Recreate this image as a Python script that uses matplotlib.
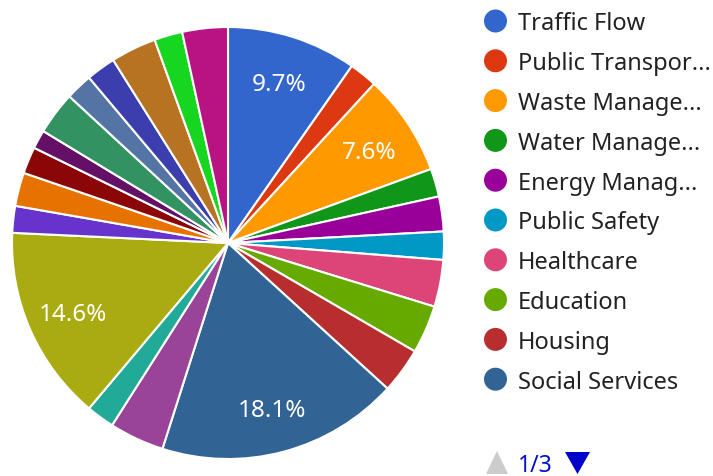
import matplotlib
matplotlib.use("Agg")
import matplotlib.pyplot as plt
from matplotlib.patches import Circle, Polygon

categories = ["Traffic Flow", "Public Transportation", "Waste Management", "Water Management",
              "Energy Management", "Public Safety", "Healthcare", "Education", "Housing",
              "Social Services", "Parks & Recreation", "Air Quality", "Urban Planning",
              "Noise Control", "Street Lighting", "Emergency Services", "Tourism",
              "Green Spaces", "Digital Services", "Citizen Engagement", "Infrastructure",
              "Recycling", "Culture"]
values = [9.7, 2.1, 7.6, 2.1, 2.6, 2.1, 3.5, 3.6, 3.4, 18.1, 4.1, 2.1, 14.6,
          2.0, 2.5, 2.0, 1.4, 3.2, 2.0, 2.2, 3.4, 2.1, 3.4]
legend_labels = ["Traffic Flow", "Public Transpor...", "Waste Manage...", "Water Manage...",
                 "Energy Manag...", "Public Safety", "Healthcare", "Education", "Housing",
                 "Social Services"]
page_text = "1/3"

colors = ["#3366cc", "#dc3912", "#ff9900", "#109618", "#990099", "#0099c6", "#dd4477",
          "#66aa00", "#b82e2e", "#316395", "#994499", "#22aa99", "#aaaa11", "#6633cc",
          "#e67300", "#8b0707", "#651067", "#329262", "#5574a6", "#3b3eac", "#b77322",
          "#16d620", "#b91383"]

W, H = 713, 477
fig = plt.figure(figsize=(W / 100, H / 100), dpi=100)
ax = fig.add_axes([0, 0, 1, 1])
font = "Noto Sans"

def pct(p):
    return f"{p:.1f}%" if p >= 7 else ""

cx, cy, r = 228, H - 244, 216
wedges, texts, autotexts = ax.pie(values, colors=colors, startangle=90, counterclock=False,
                                  center=(cx, cy), radius=r, autopct=pct, pctdistance=0.785,
                                  wedgeprops=dict(edgecolor="white", linewidth=1.5),
                                  textprops=dict(color="white", fontsize=17.5, family=font))
for t in autotexts:
    t.set_va("center_baseline")
ax.set_xlim(0, W)
ax.set_ylim(0, H)
ax.set_aspect("auto")
ax.axis("off")

# legend
for i, lab in enumerate(legend_labels):
    y = H - (22 + 39.8 * i)
    ax.add_patch(Circle((495.5, y), 11.5, color=colors[i], lw=0))
    ax.text(518, y - 8.4, lab, fontsize=17, family=font, color="#222222", va="baseline", ha="left")

# pager
ax.add_patch(Polygon([[486, H - 475], [508, H - 475], [497, H - 452]], closed=True,
                     color="#cccccc", lw=0))
ax.add_patch(Polygon([[565, H - 453], [590, H - 453], [577.5, H - 475]], closed=True,
                     color="#0000cc", lw=0))
ax.text(518, H - 472, page_text, fontsize=16.5, family=font, color="#0011cc", va="baseline", ha="left")

fig.savefig("out.png", dpi=100)
